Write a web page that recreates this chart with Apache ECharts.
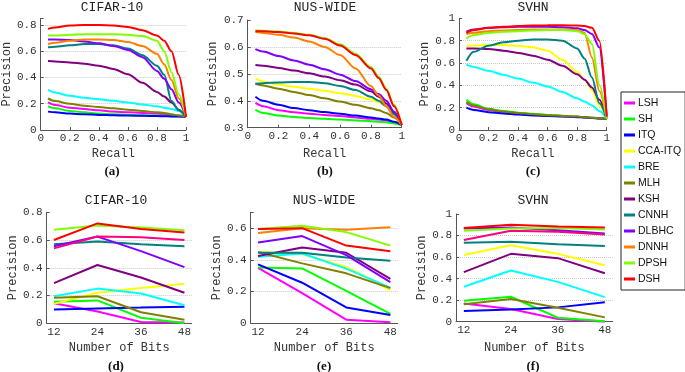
<!DOCTYPE html>
<html>
<head>
<meta charset="utf-8">
<script src="https://cdn.jsdelivr.net/npm/echarts@6/dist/echarts.min.js"></script>
<style>
  html, body { margin: 0; padding: 0; background: #fff; }
  #chart-container { width: 685px; height: 372px; }
</style>
</head>
<body>
<div id="chart-container"></div>
<script>
// methods, legend order
var names = ['LSH', 'SH', 'ITQ', 'CCA-ITQ', 'BRE', 'MLH', 'KSH', 'CNNH', 'DLBHC', 'DNNH', 'DPSH', 'DSH'];
var colors = ['#ff00ff', '#00ff00', '#0000ff', '#ffff00', '#00ffff', '#808000', '#800080', '#008080', '#8000ff', '#ff8000', '#80ff00', '#ff0000'];

var recall = [0.05, 0.1, 0.2, 0.3, 0.4, 0.5, 0.6, 0.7, 0.8, 0.85, 0.9, 0.95, 1];
var bits = [12, 24, 36, 48];

// (a) CIFAR-10 precision-recall, rows in order of names
var cifarPR = [
    [0.21, 0.19, 0.17, 0.16, 0.15, 0.14, 0.135, 0.13, 0.125, 0.12, 0.115, 0.11, 0.10],
    [0.18, 0.165, 0.145, 0.135, 0.125, 0.12, 0.115, 0.112, 0.11, 0.108, 0.105, 0.103, 0.10],
    [0.14, 0.135, 0.125, 0.12, 0.115, 0.112, 0.11, 0.108, 0.106, 0.105, 0.103, 0.102, 0.10],
    null,
    [0.305, 0.285, 0.26, 0.245, 0.235, 0.222, 0.21, 0.195, 0.18, 0.17, 0.16, 0.145, 0.10],
    [0.24, 0.22, 0.2, 0.185, 0.175, 0.165, 0.155, 0.145, 0.135, 0.13, 0.12, 0.11, 0.10],
    [0.525, 0.522, 0.515, 0.505, 0.49, 0.465, 0.425, 0.36, 0.29, 0.255, 0.21, 0.155, 0.10],
    [0.63, 0.635, 0.645, 0.655, 0.655, 0.645, 0.62, 0.57, 0.49, 0.42, 0.22, 0.15, 0.10],
    [0.69, 0.69, 0.685, 0.675, 0.66, 0.64, 0.61, 0.555, 0.45, 0.39, 0.31, 0.21, 0.10],
    [0.655, 0.665, 0.68, 0.69, 0.69, 0.685, 0.67, 0.64, 0.58, 0.50, 0.38, 0.24, 0.10],
    [0.72, 0.72, 0.725, 0.73, 0.73, 0.73, 0.725, 0.715, 0.68, 0.60, 0.44, 0.27, 0.10],
    [0.77, 0.78, 0.795, 0.80, 0.80, 0.795, 0.785, 0.76, 0.72, 0.68, 0.60, 0.42, 0.10]
];

// (b) NUS-WIDE precision-recall
var nusPR = [
    [0.392, 0.38, 0.365, 0.357, 0.352, 0.347, 0.343, 0.338, 0.333, 0.330, 0.327, 0.32, 0.31],
    [0.366, 0.355, 0.345, 0.34, 0.336, 0.333, 0.33, 0.327, 0.324, 0.322, 0.32, 0.316, 0.31],
    [0.415, 0.40, 0.385, 0.373, 0.365, 0.358, 0.352, 0.345, 0.338, 0.334, 0.33, 0.322, 0.31],
    [0.483, 0.472, 0.46, 0.452, 0.445, 0.437, 0.428, 0.418, 0.405, 0.395, 0.38, 0.35, 0.31],
    null,
    [0.463, 0.457, 0.445, 0.433, 0.421, 0.409, 0.397, 0.385, 0.372, 0.365, 0.355, 0.338, 0.31],
    [0.533, 0.53, 0.522, 0.512, 0.502, 0.49, 0.476, 0.46, 0.435, 0.415, 0.39, 0.355, 0.31],
    [0.463, 0.465, 0.468, 0.47, 0.47, 0.465, 0.455, 0.44, 0.415, 0.40, 0.38, 0.35, 0.31],
    [0.592, 0.583, 0.566, 0.55, 0.534, 0.517, 0.497, 0.473, 0.443, 0.425, 0.40, 0.36, 0.31],
    [0.655, 0.652, 0.645, 0.635, 0.62, 0.60, 0.57, 0.52, 0.455, 0.42, 0.38, 0.34, 0.31],
    [0.662, 0.66, 0.657, 0.652, 0.645, 0.632, 0.61, 0.575, 0.525, 0.49, 0.445, 0.385, 0.31],
    [0.658, 0.658, 0.655, 0.65, 0.643, 0.63, 0.605, 0.57, 0.52, 0.485, 0.44, 0.38, 0.31]
];

// (c) SVHN precision-recall
var svhnPR = [
    [0.24, 0.21, 0.18, 0.16, 0.148, 0.138, 0.13, 0.124, 0.118, 0.114, 0.11, 0.105, 0.10],
    [0.27, 0.23, 0.19, 0.17, 0.155, 0.145, 0.135, 0.128, 0.12, 0.115, 0.11, 0.105, 0.10],
    [0.20, 0.18, 0.16, 0.148, 0.138, 0.13, 0.125, 0.12, 0.115, 0.112, 0.108, 0.104, 0.10],
    [0.755, 0.757, 0.76, 0.76, 0.755, 0.74, 0.71, 0.63, 0.52, 0.45, 0.36, 0.22, 0.10],
    [0.585, 0.565, 0.53, 0.495, 0.46, 0.425, 0.39, 0.34, 0.285, 0.255, 0.22, 0.17, 0.10],
    [0.25, 0.22, 0.185, 0.165, 0.152, 0.142, 0.133, 0.126, 0.12, 0.115, 0.11, 0.105, 0.10],
    [0.73, 0.73, 0.725, 0.71, 0.69, 0.665, 0.63, 0.575, 0.50, 0.45, 0.38, 0.27, 0.10],
    [0.62, 0.70, 0.755, 0.785, 0.80, 0.81, 0.81, 0.80, 0.73, 0.64, 0.47, 0.24, 0.10],
    [0.88, 0.90, 0.915, 0.92, 0.925, 0.925, 0.925, 0.92, 0.91, 0.895, 0.86, 0.74, 0.12],
    [0.86, 0.87, 0.885, 0.89, 0.895, 0.90, 0.90, 0.90, 0.895, 0.87, 0.65, 0.35, 0.10],
    [0.82, 0.85, 0.87, 0.88, 0.885, 0.89, 0.895, 0.895, 0.885, 0.86, 0.77, 0.40, 0.10],
    [0.87, 0.895, 0.915, 0.925, 0.93, 0.935, 0.937, 0.938, 0.935, 0.93, 0.915, 0.80, 0.12]
];

// (d) CIFAR-10 precision vs bits
var cifarBits = [
    [0.145, 0.085, 0.01, 0.005],
    [0.155, 0.165, 0.04, 0.0],
    [0.10, 0.107, 0.113, 0.12],
    [0.14, 0.22, 0.255, 0.285],
    [0.195, 0.25, 0.215, 0.13],
    [0.185, 0.195, 0.08, 0.025],
    [0.29, 0.42, 0.33, 0.22],
    [0.57, 0.59, 0.57, 0.555],
    [0.555, 0.625, 0.52, 0.405],
    [0.54, 0.625, 0.62, 0.60],
    [0.675, 0.705, 0.69, 0.67],
    [0.60, 0.72, 0.68, 0.655]
];

// (e) NUS-WIDE precision vs bits
var nusBits = [
    [0.35, 0.19, 0.023, 0.006],
    [0.352, 0.346, 0.205, 0.06],
    [0.372, 0.256, 0.10, 0.052],
    [0.45, 0.437, 0.355, 0.21],
    [0.42, 0.44, 0.345, 0.225],
    [0.45, 0.378, 0.315, 0.222],
    [0.425, 0.478, 0.445, 0.28],
    [0.445, 0.445, 0.415, 0.395],
    [0.51, 0.55, 0.43, 0.26],
    [0.57, 0.60, 0.59, 0.605],
    [0.595, 0.615, 0.575, 0.49],
    [0.595, 0.60, 0.49, 0.455]
];

// (f) SVHN precision vs bits
var svhnBits = [
    [0.17, 0.118, 0.025, 0.0],
    [0.195, 0.232, 0.037, 0.005],
    [0.10, 0.113, 0.133, 0.18],
    [0.62, 0.71, 0.63, 0.525],
    [0.325, 0.475, 0.37, 0.228],
    [0.162, 0.21, 0.13, 0.04],
    [0.46, 0.63, 0.59, 0.45],
    [0.733, 0.742, 0.72, 0.702],
    [0.865, 0.875, 0.85, 0.82],
    [0.758, 0.845, 0.835, 0.81],
    [0.845, 0.865, 0.87, 0.855],
    [0.87, 0.90, 0.885, 0.875]
];

var mono = 'Liberation Mono';
var axisGray = '#555';
var textGray = '#333';

// panel layout: grid box, y range, title
var panels = [
    { title: 'CIFAR-10', tag: '(a)', left: 39, top: 18.4, width: 147, height: 111.6, xmin: 0, xmax: 1, xint: 0.2, ymin: 0, ymax: 0.85, yint: 0.2, rows: cifarPR, xs: recall, pr: true, yGap: 26, xGap: 18, tx: 112, ty: 1, ly: 165 },
    { title: 'NUS-WIDE', tag: '(b)', left: 247.7, top: 20, width: 154, height: 107.7, xmin: 0, xmax: 1, xint: 0.2, ymin: 0.3, ymax: 0.7, yint: 0.1, rows: nusPR, xs: recall, pr: true, yGap: 29, xGap: 20, tx: 325, ty: 1, ly: 165 },
    { title: 'SVHN', tag: '(c)', left: 459, top: 18.3, width: 147.7, height: 111.7, xmin: 0, xmax: 1, xint: 0.2, ymin: 0, ymax: 1, yint: 0.2, rows: svhnPR, xs: recall, pr: true, yGap: 26, xGap: 18, tx: 533, ty: 1, ly: 165 },
    { title: 'CIFAR-10', tag: '(d)', left: 46.7, top: 212.3, width: 145, height: 111, xmin: 10, xmax: 50, xint: 2, ymin: 0, ymax: 0.8, yint: 0.2, rows: cifarBits, xs: bits, pr: false, yGap: 28, xGap: 19, tx: 116, ty: 194, ly: 360, pink: true },
    { title: 'NUS-WIDE', tag: '(e)', left: 250.7, top: 212.3, width: 147, height: 111, xmin: 10, xmax: 50, xint: 2, ymin: 0, ymax: 0.7, yint: 0.2, rows: nusBits, xs: bits, pr: false, yGap: 26, xGap: 19, tx: 324, ty: 194, ly: 360 },
    { title: 'SVHN', tag: '(f)', left: 456, top: 214, width: 156.7, height: 107.7, xmin: 10, xmax: 50, xint: 2, ymin: 0, ymax: 1, yint: 0.2, rows: svhnBits, xs: bits, pr: false, yGap: 27, xGap: 20, tx: 533, ty: 194, ly: 360, pink: true }
];

var chart = echarts.init(document.getElementById('chart-container'));

var grids = [], xAxes = [], yAxes = [], series = [], titles = [];

panels.forEach(function (p, k) {
    grids.push({ left: p.left, top: p.top, width: p.width, height: p.height, containLabel: false });
    xAxes.push({
        type: 'value', gridIndex: k, min: p.xmin, max: p.xmax, interval: p.xint,
        name: p.pr ? 'Recall' : 'Number of Bits', nameLocation: 'middle', nameGap: p.xGap,
        nameTextStyle: { fontFamily: mono, fontSize: 12, color: textGray },
        axisLine: { lineStyle: { color: axisGray, width: 1 } },
        axisTick: { show: p.pr, inside: true, length: 3, lineStyle: { color: axisGray } },
        axisLabel: {
            fontFamily: mono, fontSize: 11, color: textGray, margin: 3,
            formatter: function (v) {
                if (p.pr) return String(+v.toFixed(1));
                return bits.indexOf(v) >= 0 ? String(v) : '';
            }
        },
        splitLine: { show: false }
    });
    yAxes.push({
        type: 'value', gridIndex: k, min: p.ymin, max: p.ymax, interval: p.yint,
        name: 'Precision', nameLocation: 'middle', nameGap: p.yGap,
        nameTextStyle: { fontFamily: mono, fontSize: 12, color: textGray },
        axisLine: { show: true, lineStyle: { color: axisGray, width: 1 } },
        axisTick: { show: true, inside: true, length: 3, lineStyle: { color: axisGray } },
        axisLabel: {
            fontFamily: mono, fontSize: 11, color: textGray, margin: 4,
            formatter: function (v) {
                var r = Math.round((v - p.ymin) / p.yint * 1000) / 1000;
                if (r !== Math.round(r)) return '';
                return String(+v.toFixed(2));
            }
        },
        splitLine: { show: true, showMinLine: false, showMaxLine: false, lineStyle: { color: '#c8c8c8', type: 'dotted', width: 1 } }
    });
    titles.push({ text: p.title, left: p.tx, top: p.ty, padding: 0, textAlign: 'center', textStyle: { fontFamily: mono, fontSize: 13, fontWeight: 'normal', color: '#222' } });
    titles.push({ text: p.tag, left: p.tx, top: p.ly, padding: 0, textAlign: 'center', textStyle: { fontFamily: 'Liberation Serif', fontSize: 13, fontWeight: 'bold', color: '#111' } });

    p.rows.forEach(function (vals, i) {
        if (!vals) return;
        var c = colors[i];
        if (p.pink && names[i] === 'DNNH') c = '#ff0080';
        series.push({
            name: names[i], type: 'line', xAxisIndex: k, yAxisIndex: k,
            data: p.xs.map(function (x, j) { return [x, vals[j]]; }),
            showSymbol: false, symbol: 'none',
            smooth: p.pr ? 0.3 : false, smoothMonotone: 'x',
            lineStyle: { color: c, width: 2 }, itemStyle: { color: c },
            silent: true, animation: false
        });
    });
});

chart.setOption({
    backgroundColor: '#fff',
    animation: false,
    title: titles,
    grid: grids,
    xAxis: xAxes,
    yAxis: yAxes,
    legend: {
        orient: 'vertical', left: 621, top: 92,
        padding: [5, 4, 5, 3], itemGap: 4,
        itemWidth: 11, itemHeight: 3, icon: 'rect',
        borderColor: '#222', borderWidth: 1, backgroundColor: '#fff',
        textStyle: { fontFamily: 'Liberation Sans', fontSize: 10.5, lineHeight: 12, color: '#111', padding: [0, 0, 0, -2] },
        data: names.map(function (n, i) { return { name: n, itemStyle: { color: colors[i] } }; })
    },
    series: series
});
</script>
</body>
</html>
